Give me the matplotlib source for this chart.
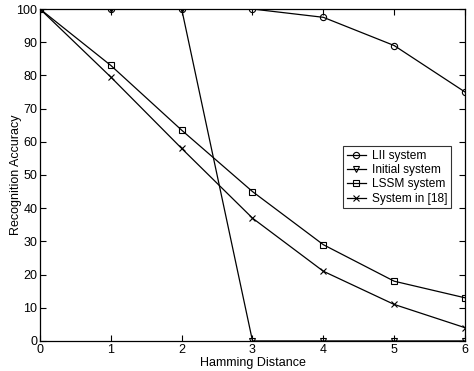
import matplotlib
matplotlib.use("Agg")
import matplotlib.pyplot as plt

plt.rcParams['font.family'] = ['Liberation Sans', 'DejaVu Sans']

hamming = [0, 1, 2, 3, 4, 5, 6]
lii = [100, 100, 100, 100, 97.5, 89, 75]
initial = [100, 100, 100, 0, 0, 0, 0]
lssm = [100, 83, 63.5, 45, 29, 18, 13]
sys18 = [100, 79.5, 58, 37, 21, 11, 4]

fig = plt.figure(figsize=(4.74, 3.71), dpi=100)
ax = fig.add_axes([0.0844, 0.081, 0.8966, 0.8947])

kw = dict(color='black', lw=0.9, markerfacecolor='none', markeredgewidth=0.8)
ax.plot(hamming, lii, marker='o', ms=4.5, label='LII system', **kw)
ax.plot(hamming, initial, marker='v', ms=5, label='Initial system', **kw)
ax.plot(hamming, lssm, marker='s', ms=4, label='LSSM system', **kw)
ax.plot(hamming, sys18, marker='x', ms=4, label='System in [18]', **kw)

ax.set_xlim(0, 6)
ax.set_ylim(0, 100)
ax.set_xticks(range(0, 7))
ax.set_yticks(range(0, 101, 10))
ax.tick_params(direction='in', top=True, right=True, labelsize=9, length=4, pad=2)
for s in ax.spines.values():
    s.set_linewidth(0.9)
ax.set_xlabel('Hamming Distance', fontsize=9, labelpad=1)
ax.set_ylabel('Recognition Accuracy', fontsize=9)
ax.yaxis.set_label_coords(-0.043, 0.5)

leg = ax.legend(loc='upper right', bbox_to_anchor=(0.967, 0.587), fontsize=8.6,
                frameon=True, fancybox=False, edgecolor='black',
                handlelength=1.6, handletextpad=0.5, borderpad=0.3,
                labelspacing=0.2, borderaxespad=0)
leg.get_frame().set_linewidth(0.8)

fig.savefig('out.png', dpi=100)
